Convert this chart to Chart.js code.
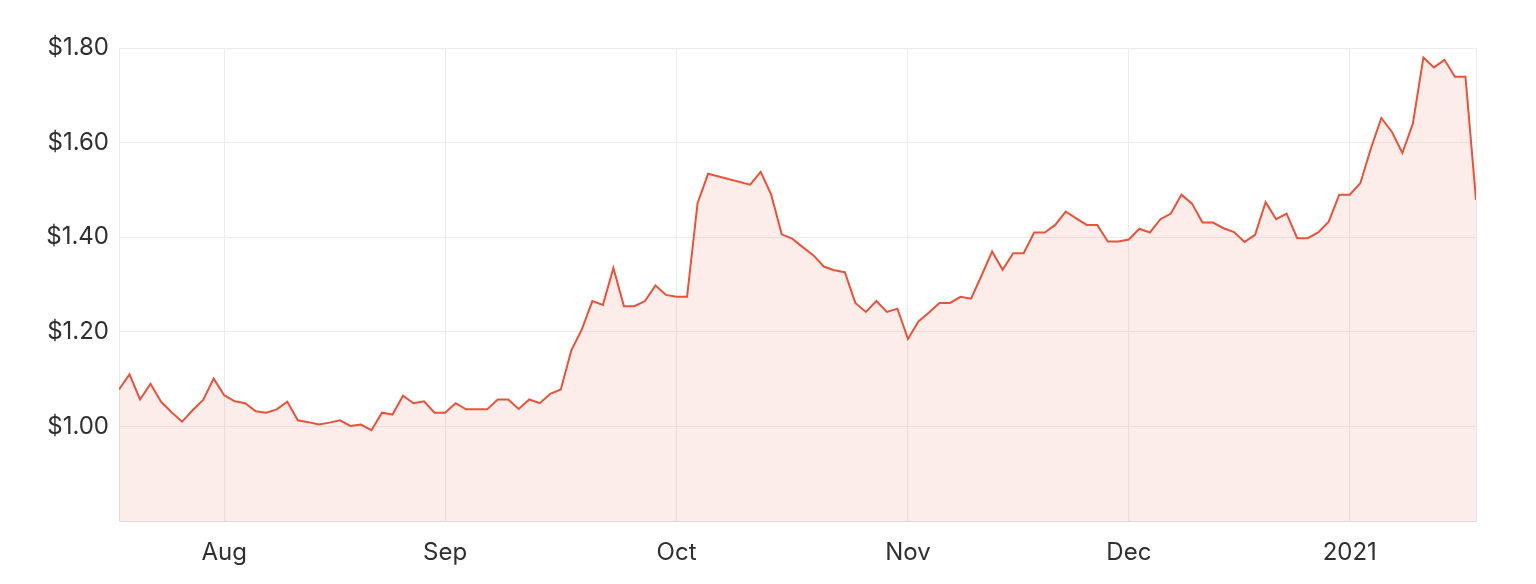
<!DOCTYPE html>
<html>
<head>
<meta charset="utf-8">
<script src="https://cdn.jsdelivr.net/npm/chart.js@4/dist/chart.umd.min.js"></script>
<style>
  html, body { margin: 0; padding: 0; background: #fff; }
  #wrap { width: 1536px; height: 584px; }
</style>
</head>
<body>
<div id="wrap"><canvas id="price-chart"></canvas></div>
<script>
// one value per ASX trading day, 20 Jul 2020 .. 20 Jan 2021 (null = no quote, line spans it)
var prices = [
  1.078, 1.110, 1.057, 1.090, 1.052, 1.030, 1.010, 1.034, 1.056, 1.101,
  1.066, 1.053, 1.049, 1.032, 1.029, 1.036, 1.052, 1.013, 1.009, 1.004,
  1.008, 1.013, 1.001, 1.004, 0.992, 1.029, 1.025, 1.065, 1.049, 1.053,
  1.029, 1.029, 1.049, 1.036, 1.036, 1.036, 1.057, 1.057, 1.037, 1.057,
  1.049, 1.069, 1.078, 1.161, 1.205, 1.265, 1.257, 1.335, 1.254, 1.254,
  1.265, 1.298, 1.278, 1.274, 1.274, 1.472, 1.534, null, null, null,
  1.511, 1.538, 1.490, 1.406, 1.397, 1.379, 1.362, 1.338, 1.330, 1.326,
  1.261, 1.242, 1.265, 1.242, 1.249, 1.185, 1.222, 1.241, 1.261, 1.261,
  1.274, 1.270, 1.319, 1.370, 1.331, 1.366, 1.366, 1.410, 1.410, 1.426,
  1.454, 1.440, 1.426, 1.426, 1.391, 1.391, 1.395, 1.418, 1.410, 1.438,
  1.450, 1.490, 1.471, 1.431, 1.431, 1.419, 1.411, 1.390, 1.405, 1.474,
  1.438, 1.450, 1.398, 1.398, 1.410, 1.433, 1.490, 1.490, 1.514, 1.587,
  1.652, 1.623, 1.578, 1.640, 1.780, 1.759, 1.775, 1.739, 1.739, 1.479
];
// first trading day of each month, as index into prices
var monthIdx = [10, 31, 53, 75, 96, 117];
var monthLabels = ["Aug", "Sep", "Oct", "Nov", "Dec", "2021"];
var yTicks = [0.8, 1.0, 1.2, 1.4, 1.6, 1.8];

var points = prices.map(function (v, i) { return { x: i, y: v }; });
var gridColor = '#ececec';

Chart.defaults.font.family = "Inter, 'Noto Sans', sans-serif";
Chart.defaults.font.size = 24;
Chart.defaults.color = '#2f2f2f';

var ctx = document.getElementById("price-chart").getContext('2d');
var myChart = new Chart(ctx, {
  type: 'line',
  data: {
    datasets: [{
      label: 'price',
      data: points,
      borderColor: '#e8533c',
      backgroundColor: 'rgba(232, 83, 60, 0.11)',
      borderWidth: 2,
      fill: 'start',
      pointRadius: 0,
      tension: 0,
      spanGaps: true
    }]
  },
  options: {
    responsive: true,
    maintainAspectRatio: false,
    animation: false,
    layout: { padding: { top: 48, right: 60, left: 0, bottom: 0 } },
    plugins: {
      legend: { display: false },
      tooltip: { enabled: false }
    },
    scales: {
      x: {
        type: 'linear',
        min: 0,
        max: prices.length - 1,
        afterBuildTicks: function (scale) {
          var t = monthIdx.map(function (v) { return { value: v }; });
          t.push({ value: prices.length - 1 });
          scale.ticks = t;
        },
        afterFit: function (scale) { scale.height = 63; },
        ticks: {
          padding: 17,
          maxRotation: 0,
          autoSkip: false,
          callback: function (v) {
            var k = monthIdx.indexOf(v);
            return k >= 0 ? monthLabels[k] : '';
          }
        },
        grid: { color: gridColor, drawTicks: false },
        border: { color: '#dcdcdc' }
      },
      y: {
        min: 0.8,
        max: 1.8,
        afterBuildTicks: function (scale) {
          scale.ticks = yTicks.map(function (v) { return { value: v }; });
        },
        afterFit: function (scale) { scale.width = 119; },
        ticks: {
          padding: 10,
          callback: function (v) {
            return v < 0.9 ? '' : '$' + v.toFixed(2);
          }
        },
        grid: { color: gridColor, drawTicks: false },
        border: { color: gridColor }
      }
    }
  }
});
</script>
</body>
</html>
